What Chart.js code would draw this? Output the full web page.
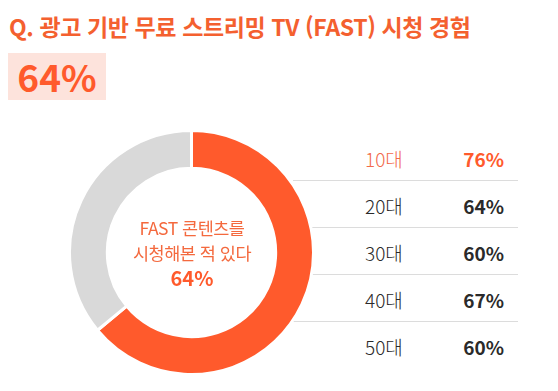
<!DOCTYPE html>
<html lang="ko">
<head>
<meta charset="utf-8">
<script src="https://cdn.jsdelivr.net/npm/chart.js@4/dist/chart.umd.min.js"></script>
<style>
  html, body {
    margin: 0;
    padding: 0;
    background: #fff;
  }
  body {
    position: relative;
    width: 558px;
    height: 391px;
    overflow: hidden;
    font-family: "Noto Sans CJK KR", "Noto Sans", sans-serif;
  }
  .title {
    position: absolute;
    left: 9px;
    top: 11px;
    font-size: 23px;
    line-height: 30px;
    font-weight: 700;
    color: #f4602f;
    letter-spacing: -0.4px;
    white-space: nowrap;
  }
  .badge {
    position: absolute;
    left: 8px;
    top: 53px;
    width: 98px;
    height: 47px;
    background: #fde3dc;
    color: #ff5a2c;
    font-size: 37px;
    font-weight: 700;
    line-height: 47px;
    text-align: center;
  }
  .rows {
    position: absolute;
    left: 293px;
    top: 134px;
    width: 225px;
  }
  .row {
    position: relative;
    height: 47px;
    border-bottom: 1.5px solid #dcdcdc;
    box-sizing: border-box;
  }
  .row:last-child {
    border-bottom: none;
  }
  .row .lbl {
    position: absolute;
    left: 72px;
    top: 10px;
    font-size: 19px;
    line-height: 30px;
    font-weight: 300;
    color: #2a2a2a;
  }
  .row .val {
    position: absolute;
    right: 14px;
    top: 10px;
    font-size: 19px;
    line-height: 30px;
    font-weight: 700;
    color: #2a2a2a;
  }
  .row.hi .lbl { color: #f26a4b; }
  .row.hi .val { color: #ff5a2c; }
  #donut {
    position: absolute;
    left: 68px;
    top: 129px;
  }
  .center {
    position: absolute;
    left: 106px;
    top: 215px;
    width: 172px;
    text-align: center;
    color: #f4693e;
    font-size: 17.5px;
    line-height: 25px;
    letter-spacing: -0.5px;
  }
  .center b {
    font-size: 20px;
    font-weight: 700;
    color: #ff5a2c;
    letter-spacing: 0;
  }
</style>
</head>
<body>
<div class="title">Q. 광고 기반 무료 스트리밍 TV (FAST) 시청 경험</div>
<div class="badge" id="badge"></div>
<div class="rows" id="rows"></div>
<canvas id="donut" width="247" height="247"></canvas>
<div class="center" id="center"></div>

<script>
// Données
const segLabels = ['시청해본 적 있다', '없다'];
const segValues = [64, 36];
const segColors = ['#ff5a2c', '#d9d9d9'];

const ageGroups = ['10대', '20대', '30대', '40대', '50대'];
const ageValues = [76, 64, 60, 67, 60];
const highlightIndex = 0;

const centerLines = ['FAST 콘텐츠를', '시청해본 적 있다'];

// Badge + texte central
document.getElementById('badge').textContent = segValues[0] + '%';
document.getElementById('center').innerHTML =
  centerLines.join('<br>') + '<br><b>' + segValues[0] + '%</b>';

// Tableau par âge
const rowsEl = document.getElementById('rows');
ageGroups.forEach((label, i) => {
  const row = document.createElement('div');
  row.className = 'row' + (i === highlightIndex ? ' hi' : '');
  row.innerHTML = '<span class="lbl">' + label + '</span><span class="val">' + ageValues[i] + '%</span>';
  rowsEl.appendChild(row);
});

// Doughnut
new Chart(document.getElementById('donut'), {
  type: 'doughnut',
  data: {
    labels: segLabels,
    datasets: [{
      data: segValues,
      backgroundColor: segColors,
      borderColor: '#ffffff',
      borderWidth: 3
    }]
  },
  options: {
    responsive: false,
    animation: false,
    cutout: '69%',
    layout: { padding: 0 },
    plugins: {
      legend: { display: false },
      tooltip: { enabled: false }
    }
  }
});
</script>
</body>
</html>
